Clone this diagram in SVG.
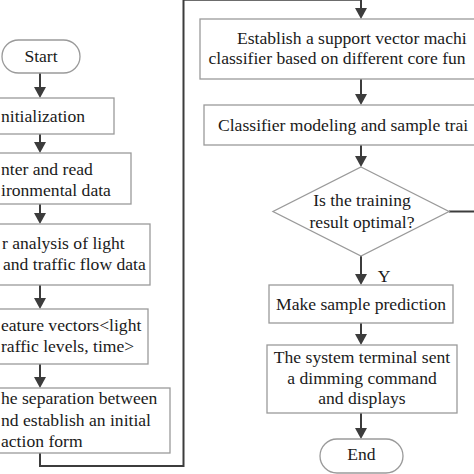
<svg xmlns="http://www.w3.org/2000/svg" width="474" height="474" viewBox="0 0 474 474">
<defs>
<style>
.box{fill:#fff;stroke:#9a9a9a;stroke-width:1.3}
.t{font-family:'Liberation Serif','Times New Roman','DejaVu Serif',serif;font-size:17.6px;fill:#1a1a1a}
.m{text-anchor:middle}
.e{text-anchor:end}
.c{fill:none;stroke:#3c3c3c;stroke-width:2}
</style>
<marker id="ah" viewBox="0 0 11 12" markerWidth="11" markerHeight="12" refX="9" refY="6" markerUnits="userSpaceOnUse" orient="auto">
<path d="M0,0 L11,6 L0,12 z" fill="#3c3c3c"/>
</marker>
</defs>
<rect width="474" height="474" fill="#fff"/>
<g font-family="Liberation Serif, Times New Roman, serif">
<g id="connectors">
<line class="c" x1="40" y1="73" x2="40" y2="96" marker-end="url(#ah)"/>
<line class="c" x1="40" y1="134" x2="40" y2="151" marker-end="url(#ah)"/>
<line class="c" x1="40" y1="204" x2="40" y2="222" marker-end="url(#ah)"/>
<line class="c" x1="40" y1="285" x2="40" y2="307" marker-end="url(#ah)"/>
<line class="c" x1="40" y1="364" x2="40" y2="386" marker-end="url(#ah)"/>
<path class="c" d="M40,453 V466 H183.5 V-0.2 H361 V17" marker-end="url(#ah)"/>
<line class="c" x1="361" y1="79" x2="361" y2="103" marker-end="url(#ah)"/>
<line class="c" x1="361" y1="145" x2="361" y2="165" marker-end="url(#ah)"/>
<line class="c" x1="449" y1="211.5" x2="476" y2="211.5"/>
<line class="c" x1="361" y1="256" x2="361" y2="283" marker-end="url(#ah)"/>
<line class="c" x1="361" y1="323" x2="361" y2="343" marker-end="url(#ah)"/>
<line class="c" x1="361" y1="413" x2="361" y2="437" marker-end="url(#ah)"/>
<text class="t m" x="384" y="282">Y</text>
</g>

<g id="start">
<rect class="box" x="2" y="40" width="78" height="33" rx="16.5"/>
<text class="t m" x="41" y="62">Start</text>
</g>
<g id="init">
<rect class="box" x="-40" y="98" width="154" height="36"/>
<text class="t" x="1" y="122">nitialization</text>
</g>
<g id="enter">
<rect class="box" x="-60" y="153" width="191" height="51"/>
<text class="t" x="1" y="175">nter and read</text>
<text class="t" x="1" y="195.5">ironmental data</text>
</g>
<g id="cluster">
<rect class="box" x="-80" y="224" width="230" height="61"/>
<text class="t" x="2" y="249">r analysis of light</text>
<text class="t" x="3" y="269.5">and traffic flow data</text>
</g>
<g id="feature">
<rect class="box" x="-80" y="309" width="228" height="55"/>
<text class="t" x="1" y="330.5">eature vectors&lt;light</text>
<text class="t" x="1" y="352">raffic levels, time&gt;</text>
</g>
<g id="separation">
<rect class="box" x="-100" y="388" width="270" height="65"/>
<text class="t" x="1" y="404">he separation between</text>
<text class="t" x="1" y="426">nd establish an initial</text>
<text class="t" x="1" y="447">action form</text>
</g>

<g id="svm">
<rect class="box" x="200" y="19" width="330" height="60"/>
<text class="t" x="237" y="44">Establish a support vector machi</text>
<text class="t" x="208.5" y="64">classifier based on different core fun</text>
</g>
<g id="classifier">
<rect class="box" x="204" y="105" width="330" height="40"/>
<text class="t" x="218" y="131">Classifier modeling and sample trai</text>
</g>
<g id="decision">
<polygon class="box" points="361,167 449,211.5 361,256 273,211.5"/>
<text class="t m" x="362" y="206">Is the training</text>
<text class="t m" x="362" y="227.5">result optimal?</text>
</g>
<g id="predict">
<rect class="box" x="269" y="285" width="184" height="38"/>
<text class="t m" x="361" y="309.5">Make sample prediction</text>
</g>
<g id="terminal">
<rect class="box" x="267" y="345" width="190" height="68"/>
<text class="t m" x="362" y="363">The system terminal sent</text>
<text class="t m" x="362" y="383.5">a dimming command</text>
<text class="t m" x="362" y="404">and displays</text>
</g>
<g id="end">
<rect class="box" x="320" y="439" width="83" height="34" rx="17"/>
<text class="t m" x="361.5" y="460">End</text>
</g>
</g>
</svg>
